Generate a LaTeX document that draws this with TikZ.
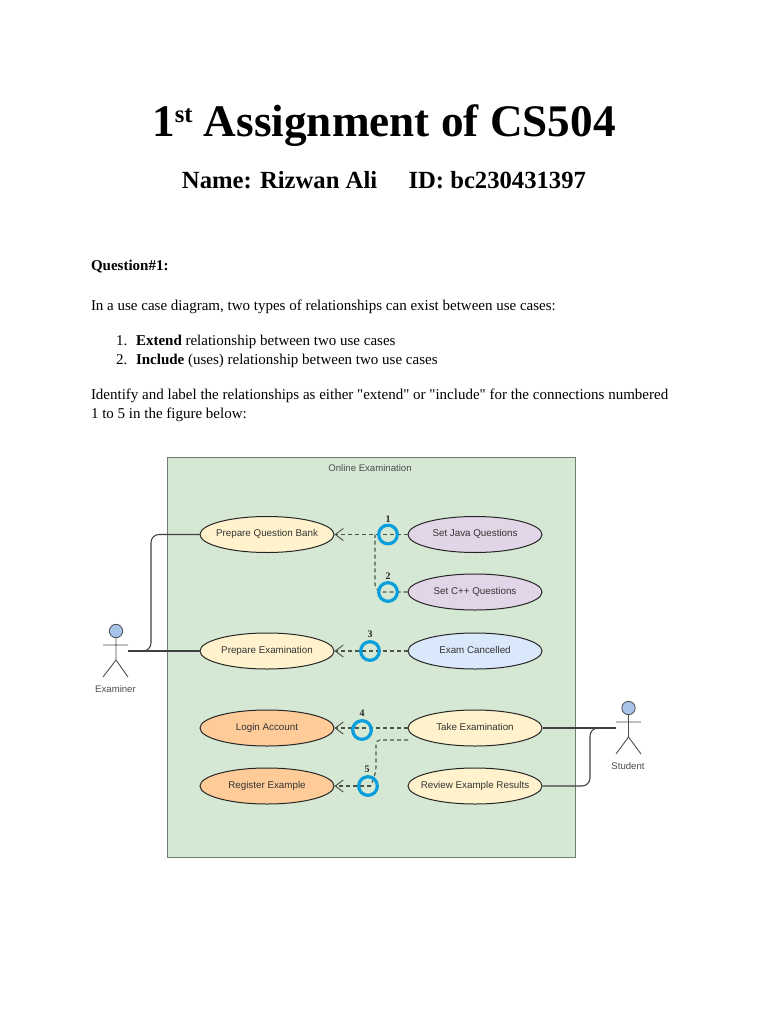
\documentclass[tikz,border=0pt]{standalone}
\usepackage{fontspec}
\setmainfont{Liberation Serif}[Ligatures=TeXOff]
\newfontfamily\diagfont{Liberation Sans}
\usetikzlibrary{arrows.meta,shapes.geometric}
\definecolor{framefill}{HTML}{D5E8D4}
\definecolor{framedraw}{HTML}{6F7F6F}
\definecolor{creamfill}{HTML}{FFF2CC}
\definecolor{purplefill}{HTML}{E1D5E7}
\definecolor{bluefill}{HTML}{DAE8FC}
\definecolor{orangefill}{HTML}{FFCC99}
\definecolor{headfill}{HTML}{A9C4EB}
\definecolor{ringblue}{HTML}{0A9FDC}
\definecolor{dashgray}{HTML}{4A544A}
\definecolor{labelgray}{HTML}{333333}
\tikzset{
  x=0.75pt,y=-0.75pt,
  doc/.style={anchor=base west,inner sep=0pt,outer sep=0pt,font=\fontsize{11.25}{13}\selectfont,text=black},
  usecase/.style={ellipse,draw=black!85,line width=0.75pt,minimum width=100.5pt,minimum height=27pt,
    inner xsep=-12pt,inner ysep=0pt,text height=4.9pt,text depth=1.9pt,
    font=\diagfont\fontsize{7.35}{9}\selectfont,text=labelgray},
  ring/.style={circle,draw=ringblue,line width=2.4pt,minimum size=14pt,inner sep=0pt},
  numlabel/.style={inner sep=0pt,font=\fontsize{7.5}{8}\selectfont\bfseries,text=black!85},
  assoc/.style={draw=black!75,line width=0.8pt,rounded corners=6pt},
  depend/.style={draw=dashgray,line width=0.85pt,dash pattern=on 3pt off 2.2pt},
  barb/.style={-{Straight Barb[length=6pt,width=9pt,line width=0.7pt]}},
  stick/.style={draw=black!70,line width=0.65pt},
  actorname/.style={inner sep=0pt,font=\diagfont\fontsize{7.2}{9}\selectfont,text=black!70},
  head/.style={circle,draw=black!70,fill=headfill,line width=0.6pt,minimum size=10pt,inner sep=0pt},
}
\begin{document}
\begin{tikzpicture}
\useasboundingbox (0,0) rectangle (768,1024);
\fill[white] (0,0) rectangle (768,1024);

% document text
\node[doc,anchor=base,font=\fontsize{33.9}{36}\selectfont\bfseries] (title) at (384,137) {1\raisebox{10.5pt}{\fontsize{18.5}{20}\selectfont st} Assignment of CS504};
\node[doc,anchor=base,font=\fontsize{18.5}{20}\selectfont\bfseries] (name) at (384,188) {Name: Rizwan Ali\hspace{23.5pt}ID: bc230431397};
\node[doc,font=\fontsize{11.25}{13}\selectfont\bfseries] (q) at (91,270.7) {Question\#1:};
\node[doc] (intro) at (91,310.7) {In a use case diagram, two types of relationships can exist between use cases:};
\node[doc] (n1) at (116,345.7) {1.};
\node[doc] (l1) at (136,345.7) {\textbf{Extend} relationship between two use cases};
\node[doc] (n2) at (116,364.7) {2.};
\node[doc] (l2) at (136,364.7) {\textbf{Include} (uses) relationship between two use cases};
\node[doc] (id1) at (91,399.7) {Identify and label the relationships as either "extend" or "include" for the connections numbered};
\node[doc] (id2) at (91,418.7) {1 to 5 in the figure below:};

% frame
\node[draw=framedraw,fill=framefill,line width=1.1pt,minimum width=306pt,minimum height=300pt,inner sep=0pt,anchor=north west] (frame) at (167,457) {};
\node[actorname] (ftitle) at (370,468.5) {Online Examination};

% use cases
\node[usecase,fill=creamfill] (pqb) at (267,534.5) {Prepare Question Bank};
\node[usecase,fill=creamfill] (pe) at (267,651) {Prepare Examination};
\node[usecase,fill=orangefill] (login) at (267,728) {Login Account};
\node[usecase,fill=orangefill] (reg) at (267,786) {Register Example};
\node[usecase,fill=purplefill] (java) at (475,534.5) {Set Java Questions};
\node[usecase,fill=purplefill] (cpp) at (475,592) {Set C++ Questions};
\node[usecase,fill=bluefill] (canc) at (475,651) {Exam Cancelled};
\node[usecase,fill=creamfill] (take) at (475,728) {Take Examination};
\node[usecase,fill=creamfill] (rev) at (475,786) {Review Example Results};

% actors
\node[head] (exh) at (116,631) {};
\coordinate (exhip) at (116,660);
\coordinate (exla) at (103,645); \coordinate (exra) at (128,645);
\coordinate (exll) at (103,677); \coordinate (exrl) at (128,677);
\coordinate (exhand) at (128,651);
\draw[stick] (exh.south) -- (exhip) (exla) -- (exra) (exll) -- (exhip) -- (exrl);
\node[actorname] (exn) at (115.5,689) {Examiner};

\node[head] (sth) at (628.5,708) {};
\coordinate (sthip) at (628.5,737);
\coordinate (stla) at (616,722); \coordinate (stra) at (641,722);
\coordinate (stll) at (616,754); \coordinate (strl) at (641,754);
\coordinate (sthand) at (616,728);
\draw[stick] (sth.south) -- (sthip) (stla) -- (stra) (stll) -- (sthip) -- (strl);
\node[actorname] (stn) at (628,766) {Student};

% associations
\coordinate (ex1) at (151,651); \coordinate (ex2) at (151,534.5);
\draw[assoc] (exhand) -- (ex1) -- (ex2) -- (pqb.west);
\draw[assoc] (exhand) -- (pe.west);
\coordinate (st1) at (590,728); \coordinate (st2) at (590,786);
\draw[assoc] (sthand) -- (take.east);
\draw[assoc] (sthand) -- (st1) -- (st2) -- (rev.east);

% dependencies
\coordinate (j2) at (375,534.5); \coordinate (j3) at (375,592);
\draw[depend,barb] (java.west) -- (pqb.east);
\draw[depend,rounded corners=6pt] (cpp.west) -- (j3) -- (j2);
\draw[depend,barb] (canc.west) -- (pe.east);
\draw[depend,barb] (take.west) -- (login.east);
\coordinate (t1) at (408,740); \coordinate (t2) at (376,740); \coordinate (t3) at (376,771); \coordinate (t4) at (371,786);
\draw[depend,rounded corners=3pt] (t1) -- (t2) -- (t3) -- (t4);
\draw[depend,barb] (t4) -- (reg.east);

% rings and numbers
\node[ring] (r1) at (388,534.5) {};
\node[ring] (r2) at (388,592) {};
\node[ring] (r3) at (370,651) {};
\node[ring] (r4) at (362,730) {};
\node[ring] (r5) at (368,786) {};
\node[numlabel] (t1n) at (388,519) {1};
\node[numlabel] (t2n) at (388,576) {2};
\node[numlabel] (t3n) at (370,634) {3};
\node[numlabel] (t4n) at (362,713) {4};
\node[numlabel] (t5n) at (367,769) {5};
\end{tikzpicture}
\end{document}
